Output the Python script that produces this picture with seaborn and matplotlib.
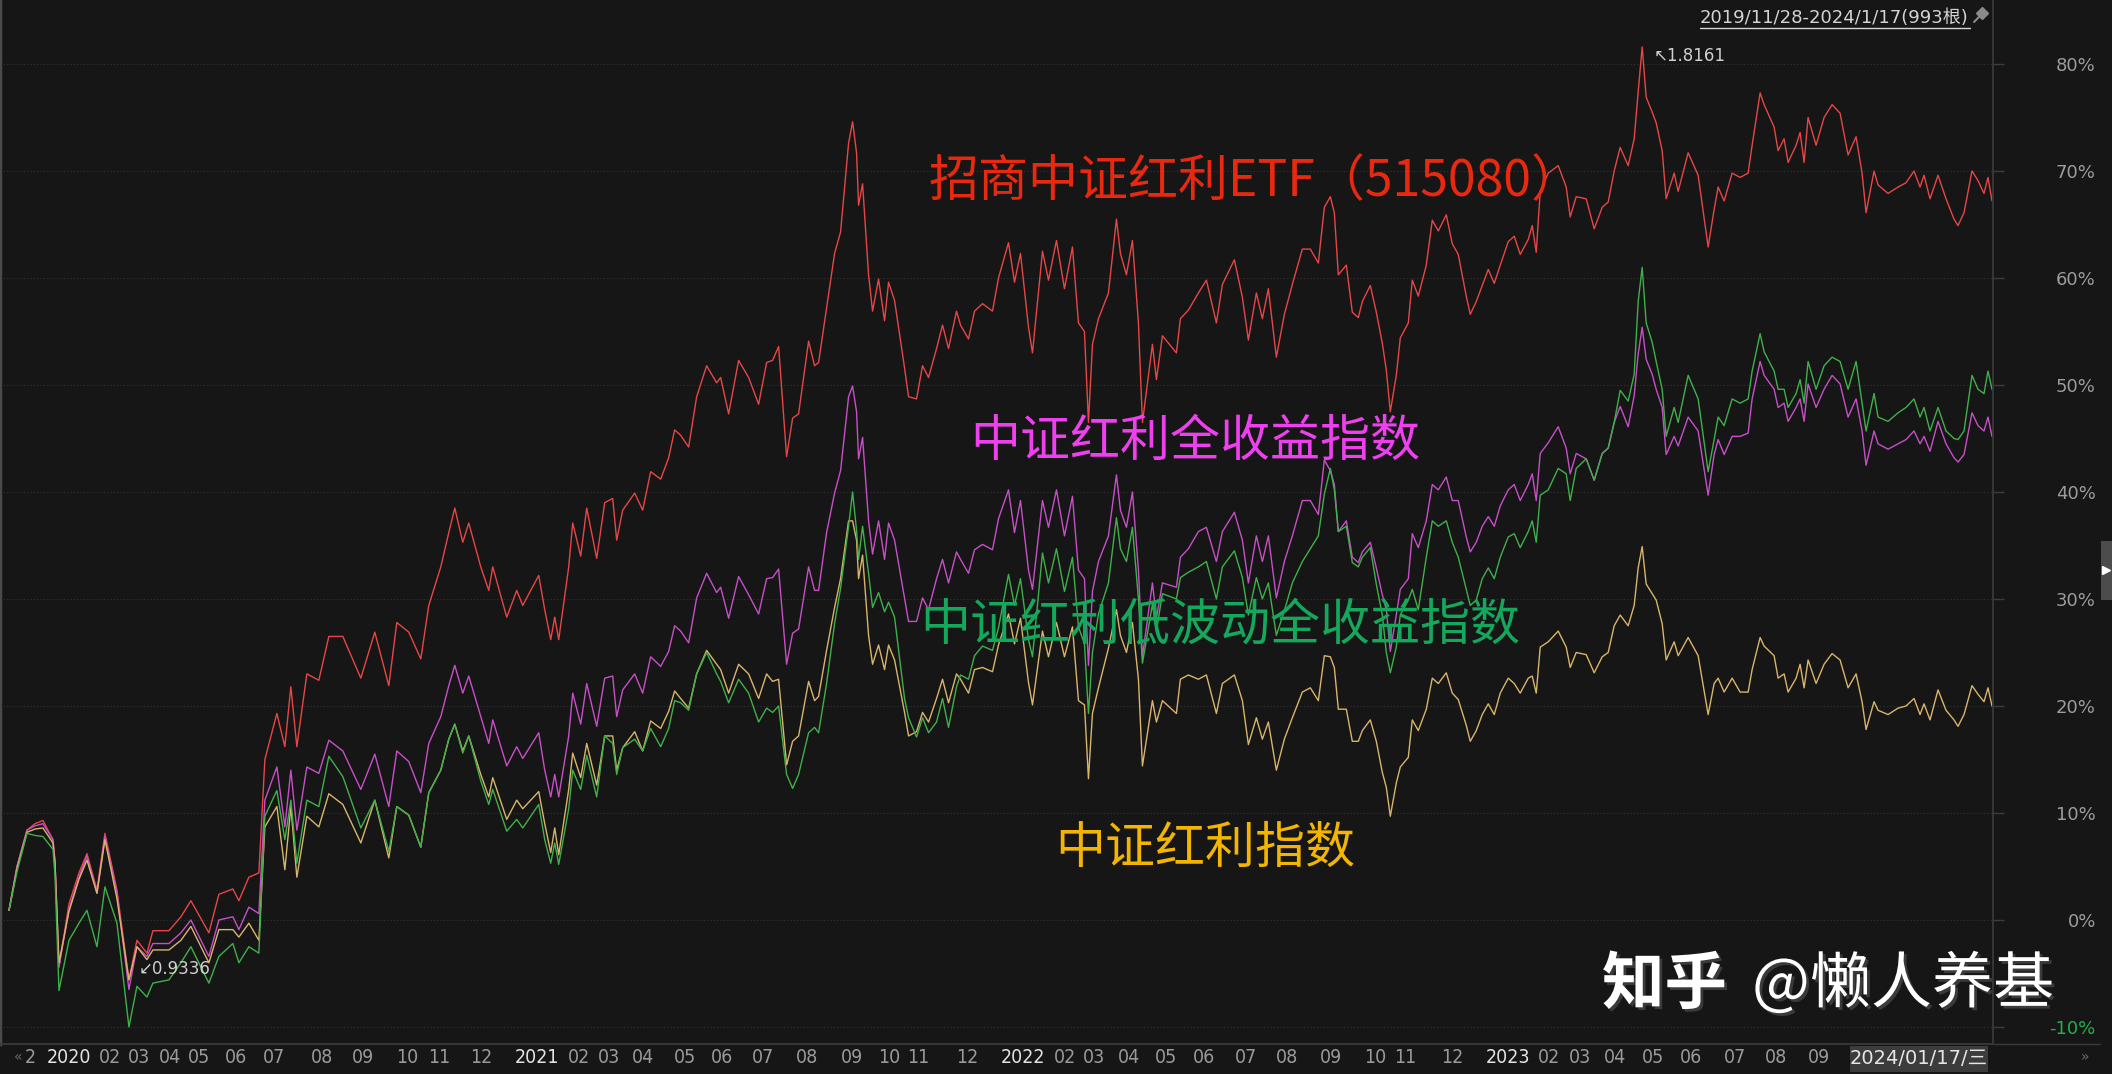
import pandas as pd
import matplotlib
matplotlib.use("Agg")
import matplotlib.pyplot as plt
import matplotlib.patheffects as pe
from matplotlib import font_manager as fm
from matplotlib.lines import Line2D
from matplotlib.patches import Rectangle
import seaborn as sns


# bar number inside the 993-bar window (2019/11/28 - 2024/1/17)
trade_day = [
    0, 4, 9, 13, 17, 22, 23, 25, 30, 35, 39, 44, 48, 54, 60, 64, 69, 72, 80, 86,
    91, 100, 105, 112, 115, 120, 125, 128, 134, 138, 141, 144, 149, 155, 160, 167, 176, 183, 190, 194,
    200, 206, 210, 216, 220, 223, 227, 230, 236, 240, 242, 249, 254, 257, 265, 268, 271, 273, 275, 280,
    282, 286, 289, 294, 298, 302, 304, 307, 313, 317, 321, 326, 330, 333, 336, 340, 344, 349, 354, 356,
    360, 365, 370, 375, 379, 382, 385, 389, 392, 395, 400, 403, 405, 409, 413, 416, 420, 422, 424, 425,
    427, 430, 432, 435, 438, 440, 443, 448, 450, 454, 457, 460, 464, 467, 470, 474, 476, 480, 483, 487,
    492, 495, 500, 503, 506, 510, 512, 517, 520, 524, 528, 532, 535, 538, 540, 542, 545, 550, 554, 556,
    559, 562, 565, 567, 572, 574, 577, 584, 586, 590, 595, 599, 604, 607, 613, 617, 620, 624, 627, 630,
    634, 638, 642, 647, 651, 655, 658, 661, 663, 665, 669, 672, 675, 677, 681, 684, 687, 689, 691, 694,
    696, 700, 702, 705, 709, 712, 715, 719, 722, 725, 729, 731, 734, 737, 740, 743, 746, 750, 753, 756,
    760, 762, 764, 766, 770, 775, 779, 781, 784, 789, 793, 797, 800, 803, 806, 810, 813, 815, 817, 819,
    822, 824, 827, 829, 833, 835, 840, 845, 850, 853, 855, 858, 862, 866, 870, 872, 876, 878, 883, 885,
    888, 890, 894, 896, 898, 900, 904, 908, 912, 916, 920, 924, 927, 929, 933, 935, 940, 945, 949, 953,
    956, 958, 961, 965, 969, 973, 975, 978, 982, 985, 988, 990, 992,
]

# cumulative change in %, same bars
etf_515080 = [
    0.9, 5.0, 8.4, 9.0, 9.3, 7.5, 5.5, -4.4, 1.5, 4.4, 6.2, 2.8, 8.1, 2.8, -5.6, -1.9, -3.1, -1.0, -1.0, 0.3,
    1.8, -1.2, 2.4, 2.9, 1.8, 4.0, 4.4, 15.0, 19.3, 16.2, 21.8, 16.2, 23.0, 22.4, 26.5, 26.5, 22.6, 26.9, 21.9, 27.8,
    26.9, 24.4, 29.4, 33.0, 36.2, 38.5, 35.3, 37.1, 33.0, 30.8, 33.0, 28.3, 30.8, 29.4, 32.2, 29.0, 26.2, 28.3, 26.2, 33.0,
    37.1, 34.0, 38.5, 33.8, 39.0, 39.4, 35.5, 38.3, 39.9, 38.3, 41.9, 41.2, 43.2, 45.8, 45.3, 44.2, 48.9, 51.8, 50.2, 50.7,
    47.3, 52.3, 50.7, 48.2, 52.1, 52.3, 53.6, 43.3, 46.9, 47.3, 54.1, 51.8, 52.1, 57.2, 62.3, 64.3, 72.6, 74.6, 71.7, 66.8,
    68.8, 60.3, 56.9, 59.9, 56.0, 59.6, 57.9, 51.6, 48.9, 48.7, 51.8, 50.7, 53.4, 55.6, 53.4, 56.9, 55.6, 54.3, 56.9, 57.6,
    56.9, 60.0, 63.3, 59.6, 62.3, 55.4, 53.0, 62.5, 59.8, 63.5, 59.0, 62.9, 55.8, 55.0, 46.5, 53.8, 56.2, 58.6, 65.5, 62.3,
    60.3, 63.5, 55.8, 46.5, 53.8, 50.5, 54.6, 53.0, 56.2, 57.0, 58.6, 59.8, 55.8, 59.4, 61.7, 58.2, 54.2, 58.6, 56.2, 59.0,
    52.6, 56.6, 59.4, 62.7, 62.7, 61.4, 66.6, 67.6, 66.1, 60.3, 61.2, 56.8, 56.3, 57.8, 59.3, 56.8, 53.9, 51.4, 47.5, 50.9,
    54.4, 55.8, 59.8, 58.3, 61.2, 65.4, 64.4, 65.9, 63.2, 62.2, 58.3, 56.6, 57.8, 59.3, 60.8, 59.5, 61.2, 63.4, 63.9, 62.2,
    63.6, 64.9, 62.4, 68.1, 69.8, 70.5, 68.5, 65.7, 67.6, 67.4, 64.6, 66.6, 67.1, 70.0, 72.2, 70.5, 73.0, 77.4, 81.6, 76.9,
    75.5, 74.5, 71.9, 67.4, 69.8, 68.1, 71.7, 69.6, 62.9, 66.4, 68.5, 67.2, 69.8, 69.4, 69.8, 72.4, 77.3, 76.2, 74.1, 71.9,
    73.0, 70.8, 72.4, 73.6, 70.8, 75.0, 72.4, 75.0, 76.2, 75.4, 71.5, 73.2, 69.8, 66.1, 70.0, 68.7, 67.9, 68.5, 68.9, 70.0,
    68.5, 69.6, 67.4, 69.6, 67.4, 65.5, 64.9, 66.1, 70.0, 69.1, 67.9, 69.4, 67.2,
]

total_return = [
    0.9, 5.0, 8.4, 8.8, 9.0, 7.5, 5.5, -4.4, 1.0, 4.0, 6.0, 2.5, 7.8, 2.5, -6.5, -2.5, -3.4, -2.2, -2.2, -1.2,
    0.0, -3.4, 0.0, 0.3, -0.9, 1.2, 0.6, 11.2, 14.3, 8.7, 14.0, 8.4, 14.3, 13.7, 16.8, 15.8, 12.2, 15.5, 10.6, 15.8,
    14.8, 11.9, 16.5, 19.0, 21.9, 23.8, 21.2, 22.8, 19.0, 16.5, 18.7, 14.4, 16.2, 15.1, 17.5, 14.0, 11.5, 13.6, 11.5, 17.2,
    21.2, 18.3, 22.1, 18.1, 22.6, 22.8, 19.0, 21.5, 23.0, 21.2, 24.6, 23.7, 25.1, 27.5, 27.0, 25.9, 30.1, 32.4, 30.6, 31.1,
    28.2, 32.1, 30.4, 28.6, 31.9, 32.0, 32.8, 23.9, 26.8, 27.2, 33.0, 30.8, 30.8, 36.2, 39.9, 42.0, 48.9, 49.9, 47.5, 43.1,
    45.1, 37.3, 34.2, 37.3, 33.7, 37.1, 35.5, 30.1, 27.9, 27.9, 30.1, 29.0, 31.9, 33.7, 31.5, 34.4, 33.7, 32.4, 34.6, 35.1,
    34.6, 37.5, 40.2, 36.2, 39.2, 32.7, 30.9, 39.2, 36.7, 40.2, 35.9, 39.6, 32.7, 31.9, 23.8, 30.7, 33.5, 35.9, 41.6, 38.3,
    36.7, 40.0, 32.7, 24.6, 31.5, 28.2, 31.5, 31.1, 33.9, 34.7, 36.3, 36.7, 33.5, 36.3, 38.1, 35.5, 31.5, 35.9, 33.5, 35.9,
    30.1, 33.5, 35.9, 39.2, 39.2, 37.9, 43.0, 42.0, 40.7, 36.3, 37.3, 33.9, 33.4, 34.4, 35.3, 32.9, 30.4, 29.0, 25.1, 28.5,
    30.9, 31.9, 36.1, 34.8, 37.3, 40.7, 40.2, 41.4, 39.2, 39.2, 35.8, 34.4, 35.3, 36.8, 37.7, 36.8, 38.7, 40.2, 40.7, 39.2,
    40.7, 41.7, 39.2, 43.6, 44.6, 46.1, 44.1, 41.7, 43.6, 43.1, 41.1, 43.6, 44.1, 46.5, 48.0, 46.1, 49.0, 52.9, 55.4, 52.4,
    51.0, 49.6, 47.9, 43.5, 45.2, 44.3, 47.0, 45.7, 39.7, 43.5, 44.9, 43.5, 45.2, 45.2, 45.5, 48.7, 52.2, 50.9, 49.6, 47.9,
    48.3, 46.6, 47.9, 48.7, 46.6, 50.1, 47.9, 49.6, 50.9, 50.1, 47.0, 48.7, 45.7, 42.5, 45.7, 44.5, 44.0, 44.5, 44.9, 45.7,
    44.5, 45.2, 43.8, 46.6, 44.5, 43.2, 42.8, 43.5, 47.4, 46.2, 45.7, 47.0, 45.2,
]

dividend_index = [
    0.9, 4.8, 8.2, 8.5, 8.6, 7.2, 5.3, -4.0, 0.8, 3.8, 5.6, 2.5, 7.5, 2.0, -5.6, -2.5, -3.7, -2.8, -2.8, -1.9,
    -0.6, -4.0, -0.9, -0.9, -1.6, -0.3, -1.9, 8.7, 10.6, 4.7, 10.6, 4.0, 9.7, 8.7, 11.8, 10.8, 7.2, 11.2, 5.8, 10.6,
    9.8, 6.8, 11.9, 14.0, 16.9, 18.3, 15.8, 17.2, 13.6, 11.5, 13.3, 9.4, 11.2, 10.4, 12.0, 9.0, 6.3, 8.6, 6.1, 12.2,
    15.6, 13.3, 16.5, 12.6, 17.2, 17.2, 14.0, 16.1, 17.6, 15.8, 18.6, 17.9, 19.5, 21.4, 20.7, 19.8, 23.0, 25.2, 23.9, 23.4,
    21.2, 23.9, 23.0, 20.7, 23.0, 22.3, 22.5, 14.5, 16.7, 17.2, 22.3, 20.5, 20.9, 25.2, 29.2, 31.9, 37.3, 37.3, 35.5, 31.9,
    34.1, 26.6, 23.9, 25.7, 23.4, 25.7, 24.3, 19.4, 17.2, 17.6, 19.4, 18.5, 20.7, 22.5, 20.3, 23.0, 22.5, 21.2, 23.4, 23.6,
    23.2, 25.7, 28.6, 25.8, 28.2, 22.2, 20.1, 27.0, 24.6, 27.8, 24.6, 27.4, 20.5, 20.1, 13.2, 19.3, 21.7, 25.4, 29.0, 26.6,
    25.0, 27.8, 22.5, 14.4, 20.5, 18.5, 20.5, 19.3, 22.5, 22.9, 22.5, 22.9, 19.3, 22.1, 22.9, 20.5, 16.4, 18.9, 16.9, 18.5,
    14.0, 16.9, 18.9, 21.3, 21.7, 20.5, 24.7, 24.6, 23.6, 19.7, 19.7, 16.7, 16.7, 17.7, 18.7, 16.7, 13.8, 12.4, 9.7, 12.8,
    14.3, 15.2, 18.7, 17.7, 19.7, 22.6, 22.1, 23.1, 21.2, 20.6, 18.2, 16.7, 17.7, 19.2, 20.2, 19.2, 21.2, 22.6, 22.1, 21.2,
    22.6, 22.8, 21.2, 25.5, 26.0, 27.0, 25.5, 23.6, 25.0, 24.8, 23.1, 24.6, 25.0, 27.5, 28.5, 27.5, 29.4, 32.9, 34.9, 31.4,
    30.5, 29.9, 27.7, 24.3, 26.0, 24.7, 26.4, 24.7, 19.2, 22.1, 22.6, 21.3, 22.6, 21.3, 21.3, 23.4, 26.4, 25.6, 24.7, 22.6,
    23.0, 21.3, 22.6, 23.9, 21.7, 24.3, 22.1, 23.9, 24.9, 24.3, 21.7, 23.0, 20.4, 17.8, 20.4, 19.6, 19.2, 19.8, 20.0, 20.7,
    19.2, 20.2, 18.7, 21.5, 19.6, 18.7, 18.1, 19.2, 21.9, 21.1, 20.4, 21.7, 20.0,
]

lowvol_total_return = [
    0.9, 4.5, 8.1, 7.9, 7.8, 6.6, 4.2, -6.6, -1.9, -0.3, 0.9, -2.5, 3.1, -0.3, -10.0, -6.2, -7.2, -5.9, -5.6, -4.0,
    -2.5, -5.9, -3.4, -2.2, -4.0, -2.5, -3.1, 9.7, 12.1, 7.5, 11.2, 5.3, 11.2, 10.6, 15.3, 13.4, 8.6, 11.2, 6.4, 10.6,
    9.8, 6.8, 11.9, 14.0, 16.9, 18.3, 15.6, 17.2, 13.0, 10.8, 12.2, 8.3, 9.4, 8.6, 10.8, 7.5, 5.3, 7.2, 5.2, 10.4,
    14.0, 12.2, 15.4, 11.5, 17.2, 16.5, 13.6, 16.1, 16.9, 15.8, 17.9, 16.2, 17.9, 20.5, 20.3, 19.6, 23.0, 25.0, 23.0, 22.3,
    20.3, 22.5, 21.2, 18.5, 19.8, 19.4, 20.0, 13.6, 12.3, 13.6, 17.5, 18.0, 17.5, 22.1, 27.7, 31.0, 36.8, 40.0, 36.4, 33.7,
    36.8, 32.4, 29.2, 30.6, 28.8, 29.7, 28.3, 20.7, 18.9, 17.1, 18.9, 17.5, 18.5, 20.7, 18.0, 21.8, 22.9, 22.5, 24.7, 25.6,
    25.2, 27.3, 32.3, 29.4, 31.9, 26.2, 24.6, 34.3, 31.5, 34.7, 30.7, 33.9, 27.4, 25.8, 19.3, 25.0, 28.6, 31.5, 37.6, 34.7,
    33.5, 36.7, 30.0, 24.0, 29.5, 27.0, 30.5, 30.0, 32.0, 32.5, 33.0, 33.5, 30.0, 33.0, 34.5, 32.0, 28.5, 32.0, 30.0, 31.5,
    26.6, 28.9, 31.5, 33.5, 34.7, 35.9, 39.8, 42.2, 40.2, 36.3, 36.8, 33.4, 33.0, 33.9, 34.8, 31.4, 28.5, 25.0, 23.1, 25.5,
    28.5, 29.9, 30.9, 29.0, 33.9, 37.3, 36.8, 37.3, 35.3, 33.9, 30.9, 29.4, 29.9, 31.9, 32.9, 31.9, 33.9, 35.8, 36.1, 34.8,
    36.3, 37.3, 35.3, 39.7, 40.2, 42.2, 41.7, 39.2, 42.2, 43.1, 41.1, 43.6, 44.1, 46.5, 49.5, 48.5, 51.0, 57.8, 61.0, 55.8,
    54.0, 52.2, 49.6, 45.2, 47.9, 46.5, 50.9, 48.7, 41.9, 44.9, 47.0, 46.2, 48.7, 48.3, 48.7, 51.3, 54.8, 53.1, 51.3, 49.6,
    49.6, 47.9, 49.2, 50.5, 48.3, 52.2, 49.6, 51.8, 52.6, 52.2, 49.6, 52.2, 48.3, 45.7, 49.2, 47.0, 46.6, 47.4, 47.9, 48.7,
    47.0, 47.9, 45.7, 47.9, 45.7, 45.0, 44.9, 45.7, 50.9, 49.6, 49.2, 51.3, 49.6,
]

# bottom axis labels and the bar they sit over
month_labels = [
    "2", "2020", "02", "03", "04", "05", "06", "07", "08", "09", "10", "11", "12",
    "2021", "02", "03", "04", "05", "06", "07", "08", "09", "10", "11", "12",
    "2022", "02", "03", "04", "05", "06", "07", "08", "09", "10", "11", "12",
    "2023", "02", "03", "04", "05", "06", "07", "08", "09",
]
month_pos = [
    10.5, 30, 50.5, 65, 80.5, 95, 113.5, 132.5, 156.5, 177, 199, 215, 236,
    264, 285, 300, 317, 338, 356.5, 377, 399, 421.5, 440.5, 455, 479.5,
    507.5, 528.5, 543, 560.5, 579, 598, 619, 639.5, 661.5, 683.5, 698.5, 722,
    750, 770.5, 786, 803.5, 822.5, 841.5, 863.5, 884, 905.5,
]

y_ticks = list(range(-10, 90, 10))

names = ["招商中证红利ETF（515080）", "中证红利全收益指数", "中证红利指数", "中证红利低波动全收益指数"]
line_colors = ["#e84646", "#c84fc8", "#d9b56a", "#3fb04a"]
label_colors = ["#e8290f", "#ee40ee", "#f3b500", "#14a85c"]

n = len(trade_day)
assert all(len(s) == n for s in [etf_515080, total_return, dividend_index, lowvol_total_return])

df = pd.DataFrame({
    "trade_day": trade_day,
    names[0]: etf_515080,
    names[1]: total_return,
    names[2]: dividend_index,
    names[3]: lowvol_total_return,
}).melt("trade_day", var_name="series", value_name="pct")

BG = "#161616"
W, H = 2112, 1074

sns.set_theme(style="dark", rc={
    "axes.facecolor": BG, "figure.facecolor": BG, "savefig.facecolor": BG,
    "axes.edgecolor": "#3a3a3a",
})
plt.rcParams["font.family"] = ["Noto Sans CJK SC", "DejaVu Sans"]

# narrow font for the date strip if one is around
installed = {f.name for f in fm.fontManager.ttflist}
if "Liberation Sans Narrow" in installed:
    date_font = fm.FontProperties(family="Liberation Sans Narrow", size=17)
else:
    date_font = fm.FontProperties(family="DejaVu Sans", stretch="condensed", size=14)


def fx(x):
    return x / W


def fy(y):
    return 1 - y / H


fig = plt.figure(figsize=(W / 100, H / 100), dpi=100)
ax = fig.add_axes([0, fy(1044), fx(1993), 1044 / H])

sns.lineplot(data=df, x="trade_day", y="pct", hue="series", hue_order=names,
             palette=dict(zip(names, line_colors)), estimator=None,
             linewidth=1.0, legend=False, ax=ax)

ax.set_xlim(-4.5, 992.5)
ax.set_ylim(-11.59, 85.98)
ax.set_xlabel("")
ax.set_ylabel("")

# dotted grid and right-hand percent scale
ax.set_yticks(y_ticks)
ax.set_yticklabels([f"{v}%" for v in y_ticks])
ax.grid(axis="y", color="#343434", linestyle=(0, (1, 2)), linewidth=0.8)
ax.grid(axis="x", visible=False)
ax.yaxis.tick_right()
ax.tick_params(axis="y", which="major", direction="out", length=8, width=1,
               color="#3c3c3c", pad=66, labelsize=13, labelcolor="#9c9c9c")
for lab, v in zip(ax.get_yticklabels(), y_ticks):
    lab.set_ha("right")
    lab.set_fontfamily("DejaVu Sans")
    if v < 0:
        lab.set_color("#22b04a")

# month strip
ax.set_xticks(month_pos)
ax.set_xticklabels(month_labels)
ax.tick_params(axis="x", length=0, pad=3)
for lab in ax.get_xticklabels():
    lab.set_fontproperties(date_font)
    lab.set_color("#e4e4e4" if len(lab.get_text()) == 4 else "#9a9a9a")

ax.spines["top"].set_visible(False)
ax.spines["left"].set_color("#4a4a4a")
ax.spines["left"].set_linewidth(2.5)
ax.spines["right"].set_color("#3a3a3a")
ax.spines["bottom"].set_color("#3a3a3a")

fig.add_artist(Line2D([fx(1993), fx(2100)], [fy(1044), fy(1044)],
                      transform=fig.transFigure, color="#3a3a3a", lw=1))
fig.add_artist(Rectangle((fx(1850), fy(1072)), fx(138), 26 / H, transform=fig.transFigure,
                         facecolor="#3c3c3c", edgecolor="none"))
fig.text(fx(1919), fy(1058), "2024/01/17/三", ha="center", va="center", color="#e6e6e6",
         fontsize=date_font.get_size(),
         family=[date_font.get_family()[0], "Noto Sans CJK SC"])
fig.text(fx(18), fy(1057), "«", ha="center", va="center", color="#6a6a6a", fontsize=10,
         family="DejaVu Sans")
fig.text(fx(2085), fy(1057), "»", ha="center", va="center", color="#6a6a6a", fontsize=10,
         family="DejaVu Sans")

# scroll tab on the right edge
fig.add_artist(Rectangle((fx(2101), fy(600)), fx(11), 59 / H, transform=fig.transFigure,
                         facecolor="#4c4c4c", edgecolor="none"))
fig.add_artist(Line2D([fx(2106)], [fy(570)], transform=fig.transFigure, marker=">",
                      markersize=6, color="white", linestyle="none"))

# range caption with underline and pin
fig.text(fx(1700), fy(18), "2019/11/28-2024/1/17(993根)", ha="left", va="center",
         color="#d4d4d4", fontsize=13, family=["DejaVu Sans", "Noto Sans CJK SC"])
fig.add_artist(Line2D([fx(1700), fx(1970)], [fy(28), fy(28)], transform=fig.transFigure,
                      color="#d4d4d4", lw=1))
fig.add_artist(Line2D([fx(1974), fx(1980)], [fy(22), fy(16)], transform=fig.transFigure,
                      color="#8a8a8a", lw=1.5))
fig.add_artist(Line2D([fx(1982)], [fy(13)], transform=fig.transFigure, marker="D",
                      markersize=6, color="#8a8a8a", linestyle="none"))

# high / low markers
ax.text(65, -4.6, "↙0.9336", ha="left", va="center", color="#d0d0d0", fontsize=12,
        family="DejaVu Sans")
ax.text(822.5, 80.7, "↖1.8161", ha="left", va="center", color="#d0d0d0", fontsize=12,
        family="DejaVu Sans")

# series names written on the chart
label_spots = [(929, 182), (970, 442), (1055, 849), (920, 626)]
for name, c, (x, y) in zip(names, label_colors, label_spots):
    fig.text(fx(x), fy(y), name, ha="left", va="center", color=c, fontsize=36,
             family=["Noto Sans CJK SC", "DejaVu Sans"])

shadow = [pe.SimplePatchShadow(offset=(2, -2), shadow_rgbFace="#3a3a3a", alpha=1), pe.Normal()]
fig.text(fx(1602), fy(985), "知乎", ha="left", va="center", color="white", fontsize=45,
         fontweight="bold", family="Noto Sans CJK SC", path_effects=shadow)
fig.text(fx(1752), fy(985), "@懒人养基", ha="left", va="center", color="white", fontsize=44,
         family="Noto Sans CJK SC", path_effects=shadow)

fig.savefig("out.png", dpi=100, facecolor=BG)
